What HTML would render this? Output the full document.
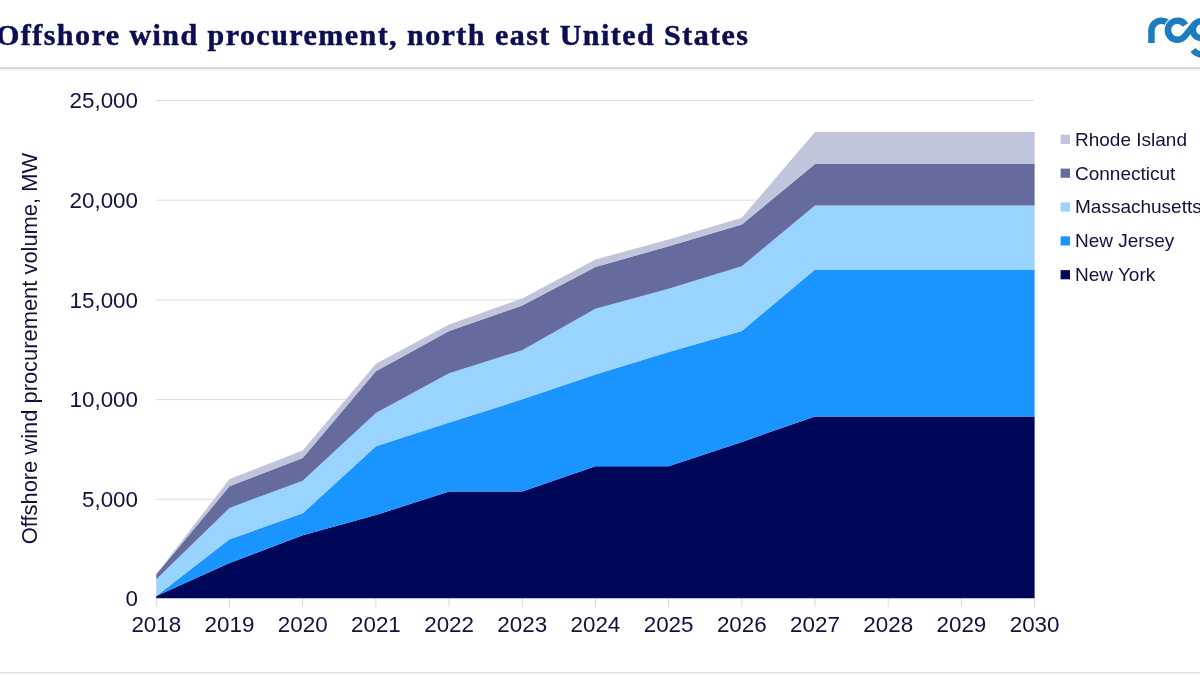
<!DOCTYPE html>
<html><head><meta charset="utf-8"><style>
html,body{margin:0;padding:0;background:#fff;width:1200px;height:675px;overflow:hidden;position:relative}
.ax{font-family:"Liberation Sans",sans-serif;font-size:22.4px;fill:#10113f}
.lg{font-family:"Liberation Sans",sans-serif;font-size:19px;fill:#10113f}
.title{font-family:"Liberation Serif",serif;font-weight:bold;font-size:30px;fill:#0b0e52;stroke:#0b0e52;stroke-width:0.5px}
</style></head><body>
<svg width="1200" height="675" viewBox="0 0 1200 675" style="position:absolute;left:0;top:0;will-change:transform">
<defs><linearGradient id="sh" x1="0" y1="0" x2="0" y2="1"><stop offset="0" stop-color="#000" stop-opacity="0.07"/><stop offset="1" stop-color="#000" stop-opacity="0"/></linearGradient></defs>
<rect x="0" y="67" width="1200" height="2" fill="#d9d9d9"/>
<rect x="0" y="69" width="1200" height="3" fill="url(#sh)"/>
<rect x="156" y="100.0" width="878" height="1" fill="#dcdcdc"/>
<rect x="156" y="199.7" width="878" height="1" fill="#dcdcdc"/>
<rect x="156" y="299.4" width="878" height="1" fill="#dcdcdc"/>
<rect x="156" y="399.1" width="878" height="1" fill="#dcdcdc"/>
<rect x="156" y="498.8" width="878" height="1" fill="#dcdcdc"/>
<rect x="155.8" y="598" width="1" height="9" fill="#d9d9d9"/>
<rect x="229.0" y="598" width="1" height="9" fill="#d9d9d9"/>
<rect x="302.2" y="598" width="1" height="9" fill="#d9d9d9"/>
<rect x="375.4" y="598" width="1" height="9" fill="#d9d9d9"/>
<rect x="448.6" y="598" width="1" height="9" fill="#d9d9d9"/>
<rect x="521.8" y="598" width="1" height="9" fill="#d9d9d9"/>
<rect x="594.9" y="598" width="1" height="9" fill="#d9d9d9"/>
<rect x="668.1" y="598" width="1" height="9" fill="#d9d9d9"/>
<rect x="741.3" y="598" width="1" height="9" fill="#d9d9d9"/>
<rect x="814.5" y="598" width="1" height="9" fill="#d9d9d9"/>
<rect x="887.7" y="598" width="1" height="9" fill="#d9d9d9"/>
<rect x="960.9" y="598" width="1" height="9" fill="#d9d9d9"/>
<rect x="1034.1" y="598" width="1" height="9" fill="#d9d9d9"/>
<polygon fill="#000759" points="156.3,596.0 229.5,563.0 302.7,535.3 375.9,515.0 449.1,491.6 522.2,491.6 595.4,466.3 668.6,466.3 741.8,441.9 815.0,416.4 888.2,416.4 961.4,416.4 1034.6,416.4 1034.6,598.3 961.4,598.3 888.2,598.3 815.0,598.3 741.8,598.3 668.6,598.3 595.4,598.3 522.2,598.3 449.1,598.3 375.9,598.3 302.7,598.3 229.5,598.3 156.3,598.3"/>
<polygon fill="#1a94ff" points="156.3,596.0 229.5,539.3 302.7,513.3 375.9,446.3 449.1,422.6 522.2,399.3 595.4,374.4 668.6,352.0 741.8,331.0 815.0,269.5 888.2,269.5 961.4,269.5 1034.6,269.5 1034.6,416.4 961.4,416.4 888.2,416.4 815.0,416.4 741.8,441.9 668.6,466.3 595.4,466.3 522.2,491.6 449.1,491.6 375.9,515.0 302.7,535.3 229.5,563.0 156.3,596.0"/>
<polygon fill="#99d3ff" points="156.3,579.3 229.5,508.0 302.7,480.7 375.9,413.0 449.1,373.3 522.2,350.2 595.4,308.8 668.6,288.8 741.8,266.3 815.0,205.5 888.2,205.5 961.4,205.5 1034.6,205.5 1034.6,269.5 961.4,269.5 888.2,269.5 815.0,269.5 741.8,331.0 668.6,352.0 595.4,374.4 522.2,399.3 449.1,422.6 375.9,446.3 302.7,513.3 229.5,539.3 156.3,596.0"/>
<polygon fill="#666b9d" points="156.3,574.3 229.5,486.3 302.7,457.9 375.9,371.3 449.1,331.1 522.2,305.5 595.4,266.9 668.6,246.3 741.8,224.5 815.0,164.0 888.2,164.0 961.4,164.0 1034.6,164.0 1034.6,205.5 961.4,205.5 888.2,205.5 815.0,205.5 741.8,266.3 668.6,288.8 595.4,308.8 522.2,350.2 449.1,373.3 375.9,413.0 302.7,480.7 229.5,508.0 156.3,579.3"/>
<polygon fill="#c1c5db" points="156.3,574.0 229.5,479.0 302.7,450.6 375.9,363.7 449.1,324.4 522.2,298.5 595.4,259.5 668.6,239.6 741.8,217.8 815.0,132.0 888.2,132.0 961.4,132.0 1034.6,132.0 1034.6,164.0 961.4,164.0 888.2,164.0 815.0,164.0 741.8,224.5 668.6,246.3 595.4,266.9 522.2,305.5 449.1,331.1 375.9,371.3 302.7,457.9 229.5,486.3 156.3,574.3"/>

<text x="138" y="108.3" text-anchor="end" class="ax">25,000</text>
<text x="138" y="208.0" text-anchor="end" class="ax">20,000</text>
<text x="138" y="307.7" text-anchor="end" class="ax">15,000</text>
<text x="138" y="407.4" text-anchor="end" class="ax">10,000</text>
<text x="138" y="507.1" text-anchor="end" class="ax">5,000</text>
<text x="138" y="606.1" text-anchor="end" class="ax">0</text>
<text x="156.3" y="632.3" text-anchor="middle" class="ax">2018</text>
<text x="229.5" y="632.3" text-anchor="middle" class="ax">2019</text>
<text x="302.7" y="632.3" text-anchor="middle" class="ax">2020</text>
<text x="375.9" y="632.3" text-anchor="middle" class="ax">2021</text>
<text x="449.1" y="632.3" text-anchor="middle" class="ax">2022</text>
<text x="522.2" y="632.3" text-anchor="middle" class="ax">2023</text>
<text x="595.4" y="632.3" text-anchor="middle" class="ax">2024</text>
<text x="668.6" y="632.3" text-anchor="middle" class="ax">2025</text>
<text x="741.8" y="632.3" text-anchor="middle" class="ax">2026</text>
<text x="815.0" y="632.3" text-anchor="middle" class="ax">2027</text>
<text x="888.2" y="632.3" text-anchor="middle" class="ax">2028</text>
<text x="961.4" y="632.3" text-anchor="middle" class="ax">2029</text>
<text x="1034.6" y="632.3" text-anchor="middle" class="ax">2030</text>
<text transform="translate(36.8,348.6) rotate(-90)" text-anchor="middle" class="ax" style="font-size:21.9px">Offshore wind procurement volume, MW</text>
<rect x="1060.6" y="134.7" width="9.4" height="9.2" fill="#c1c5db"/>
<text x="1075" y="145.6" class="lg">Rhode Island</text>
<rect x="1060.6" y="168.6" width="9.4" height="9.2" fill="#666b9d"/>
<text x="1075" y="179.5" class="lg">Connecticut</text>
<rect x="1060.6" y="202.4" width="9.4" height="9.2" fill="#99d3ff"/>
<text x="1075" y="213.3" class="lg">Massachusetts</text>
<rect x="1060.6" y="236.3" width="9.4" height="9.2" fill="#1a94ff"/>
<text x="1075" y="247.2" class="lg">New Jersey</text>
<rect x="1060.6" y="270.1" width="9.4" height="9.2" fill="#000759"/>
<text x="1075" y="281.0" class="lg">New York</text>
<text x="-4" y="45" class="title" textLength="752" lengthAdjust="spacing">Offshore wind procurement, north east United States</text>
<g fill="none" stroke="#1a7dc0" stroke-width="6.5">
<path d="M1151.45,42.9 V30.5 A9.75,9.75 0 0 1 1161.2,20.75 A9.75,9.75 0 0 1 1170,26"/>
<circle cx="1177.4" cy="30.2" r="13.7" fill="#fff" stroke="none"/>
<path d="M1185.37,25.03 A9.5,9.5 0 1 0 1184.71,36.27 L1194.76,24.17"/>
<circle cx="1201.3" cy="29.6" r="8.5"/>
<path d="M1193,50 Q1196.5,54.2 1202,54.7"/>
</g>
<rect x="0" y="672" width="1200" height="1" fill="#e0e0e0"/><rect x="0" y="673" width="1200" height="2" fill="#f6f6f6"/>
</svg>
</body></html>
